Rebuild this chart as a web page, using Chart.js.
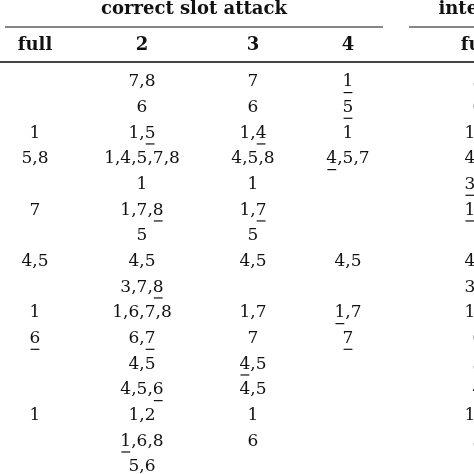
<!DOCTYPE html>
<html><head><meta charset="utf-8">
<script src="https://cdn.jsdelivr.net/npm/chart.js@4"></script>
<style>html,body{margin:0;padding:0;background:#fff}#w{width:474px;height:474px}</style>
</head><body><div id="w"><canvas id="c"></canvas></div>
<script>
// Table content ("_" marks the following digit as underlined)
const groupTitles = ["correct slot attack", "integer"];
const columnHeaders = ["full", "2", "3", "4", "full"];
const colFull = ["", "", "1", "5,8", "", "7", "", "4,5", "", "1", "_6", "", "", "1", "", ""];
const col2 = ["7,8", "6", "1,_5", "1,4,5,7,8", "1", "1,7,_8", "5", "4,5", "3,7,_8", "1,6,7,8", "6,_7", "4,5", "4,5,_6", "1,2", "_1,6,8", "5,_6"];
const col3 = ["7", "6", "1,_4", "4,5,8", "1", "1,_7", "5", "4,5", "", "1,7", "7", "_4,5", "4,5", "1", "6", ""];
const col4 = ["_1", "_5", "1", "_4,5,7", "", "", "", "4,5", "", "_1,7", "_7", "", "", "", "", ""];
const colIntFull = ["3", "6", "1,_4", "4,5", "_3,_5", "_1,2", "", "4,5", "3,_5", "1,2", "6", "3", "4", "1,2", "3", ""];
const columns = [colFull, col2, col3, col4, colIntFull];

// layout (pixel-like units on the hidden scales)
const colX = [35, 142, 253, 348, 478];
const rowY0 = 82, rowStep = 25.67;

const datasets = columns.map((col, ci) => ({
  data: col.map((t, ri) => ({x: colX[ci], y: rowY0 + ri * rowStep, t})),
  pointRadius: 0, showLine: false
}));

const drawText = (ctx, s, x, y) => {
  const plain = s.replace(/_/g, "");
  const w = ctx.measureText(plain).width;
  let cx = x - w / 2;
  for (let i = 0; i < s.length; i++) {
    let u = false, ch = s[i];
    if (ch === "_") { u = true; ch = s[++i]; }
    const cw = ctx.measureText(ch).width;
    ctx.fillText(ch, cx, y);
    if (u) ctx.fillRect(cx + 1, y + 10, cw - 2, 1.2);
    cx += cw;
  }
};

const tablePlugin = {
  id: "table",
  afterDraw(chart) {
    const ctx = chart.ctx, xs = chart.scales.x, ys = chart.scales.y;
    ctx.save();
    ctx.fillStyle = "#111"; ctx.textBaseline = "middle";
    ctx.font = "bold 18px 'DejaVu Serif'";
    ctx.textAlign = "center";
    [[194, groupTitles[0]], [475, groupTitles[1]]].forEach(([x, t]) => {
      ctx.fillText(t, xs.getPixelForValue(x), ys.getPixelForValue(9));
    });
    columnHeaders.forEach((h, i) => ctx.fillText(h, xs.getPixelForValue(colX[i]), ys.getPixelForValue(45)));
    ctx.fillStyle = "#444";
    const hline = (x1, x2, y, t) => {
      const a = xs.getPixelForValue(x1), b = xs.getPixelForValue(x2);
      ctx.fillRect(a, ys.getPixelForValue(y) - t / 2, b - a, t);
    };
    hline(5, 383, 27, 1.3);
    hline(409, 474, 27, 1.3);
    hline(0, 474, 62, 2);
    ctx.fillStyle = "#111"; ctx.textAlign = "left";
    ctx.font = "17px 'DejaVu Serif'";
    chart.data.datasets.forEach((ds, di) => {
      chart.getDatasetMeta(di).data.forEach((pt, i) => {
        const t = ds.data[i].t;
        if (t) drawText(ctx, t, pt.x, pt.y);
      });
    });
    ctx.restore();
  }
};

new Chart(document.getElementById("c"), {
  type: "scatter",
  data: {datasets},
  options: {
    responsive: true, maintainAspectRatio: false, animation: false,
    layout: {padding: 0},
    plugins: {legend: {display: false}, tooltip: {enabled: false}},
    scales: {
      x: {type: "linear", min: 0, max: 474, display: false},
      y: {type: "linear", min: 0, max: 474, reverse: true, display: false}
    }
  },
  plugins: [tablePlugin]
});
</script></body></html>
